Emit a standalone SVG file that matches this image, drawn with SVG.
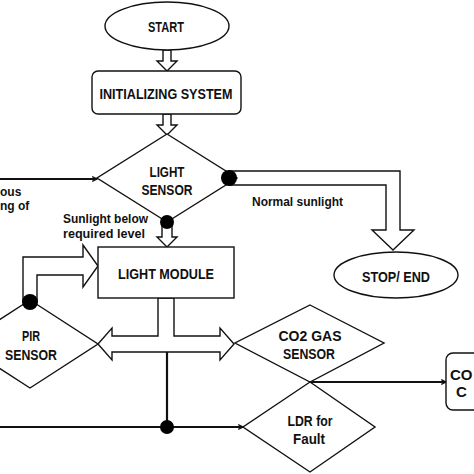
<svg xmlns="http://www.w3.org/2000/svg" width="474" height="474" viewBox="0 0 474 474">
<defs>
<style>
.shape{fill:#fff;stroke:#111;stroke-width:1.4}
.hollow{fill:#fff;stroke:#111;stroke-width:1.4;stroke-linejoin:miter}
.conn{fill:none;stroke:#111;stroke-width:2.2}
.dot{fill:#000}
.t{font-family:"Liberation Sans",Arial,sans-serif;font-weight:bold;font-size:15px;fill:#111;text-anchor:middle}
.s{font-family:"Liberation Sans",Arial,sans-serif;font-weight:bold;font-size:12px;fill:#111}
</style>
<marker id="ah" viewBox="0 0 10 10" refX="9" refY="5" markerWidth="6" markerHeight="6" orient="auto" markerUnits="userSpaceOnUse">
<path d="M1,1 L9,5 L1,9" fill="none" stroke="#111" stroke-width="2"/>
</marker>
</defs>
<rect width="474" height="474" fill="#fff"/>

<g id="connectors">
<polygon class="hollow" points="163,50 171,50 171,61 177,61 167,71 157,61 163,61"/>
<polygon class="hollow" points="163,114 171,114 171,125 177,125 167,135 157,125 163,125"/>
<polygon class="hollow" points="162,226 172,226 172,237 177,237 167,247 157,237 162,237"/>
<polygon class="hollow" points="229,171 400,171 400,230 414,230 393,250 372,230 386,230 386,185 229,185"/>
<polygon class="hollow" points="23,302 23,257 83,257 83,245 98,266 83,287 83,275 37,275 37,302"/>
<polygon class="hollow" points="158,298 158,336 112,336 112,328 98,344 112,360 112,352 220,352 220,360 234,344 220,328 220,336 174,336 174,298"/>
<line class="conn" x1="0" y1="179" x2="97" y2="179" marker-end="url(#ah)"/>
<line class="conn" x1="167" y1="352" x2="167" y2="427"/>
<line class="conn" x1="0" y1="427" x2="243" y2="427" marker-end="url(#ah)"/>
<line class="conn" x1="310" y1="382" x2="446" y2="382" marker-end="url(#ah)"/>
<text class="s" x="252" y="206" textLength="91" lengthAdjust="spacingAndGlyphs">Normal sunlight</text>
<text class="s" x="63" y="223" textLength="85" lengthAdjust="spacingAndGlyphs">Sunlight below</text>
<text class="s" x="63" y="238" textLength="82" lengthAdjust="spacingAndGlyphs">required level</text>
<text class="s" x="0" y="196">ous</text>
<text class="s" x="0" y="210">ng of</text>
</g>

<g id="start">
<ellipse class="shape" cx="167" cy="26" rx="62" ry="24"/>
<text class="t" x="166" y="32" textLength="36" lengthAdjust="spacingAndGlyphs">START</text>
</g>

<g id="init">
<rect class="shape" x="92" y="71" width="149" height="43" rx="6"/>
<text class="t" x="166" y="99" textLength="133" lengthAdjust="spacingAndGlyphs">INITIALIZING SYSTEM</text>
</g>

<g id="light-sensor">
<polygon class="shape" points="167,134 237,178 167,222 97,178"/>
<text class="t" x="167" y="177" textLength="35" lengthAdjust="spacingAndGlyphs">LIGHT</text>
<text class="t" x="167" y="195" textLength="51" lengthAdjust="spacingAndGlyphs">SENSOR</text>
</g>

<g id="stop">
<ellipse class="shape" cx="396" cy="275" rx="62" ry="23"/>
<text class="t" x="396" y="282" textLength="68" lengthAdjust="spacingAndGlyphs">STOP/ END</text>
</g>

<g id="light-module">
<rect class="shape" x="98" y="247" width="136" height="51"/>
<text class="t" x="166" y="279" textLength="96" lengthAdjust="spacingAndGlyphs">LIGHT MODULE</text>
</g>

<g id="pir">
<polygon class="shape" points="30,300 98,344 30,388 -38,344"/>
<text class="t" x="31" y="341" textLength="18" lengthAdjust="spacingAndGlyphs">PIR</text>
<text class="t" x="31" y="360" textLength="52" lengthAdjust="spacingAndGlyphs">SENSOR</text>
</g>

<g id="co2">
<polygon class="shape" points="310,305 384,343 310,382 235,343"/>
<text class="t" x="310" y="341" textLength="63" lengthAdjust="spacingAndGlyphs">CO2 GAS</text>
<text class="t" x="309" y="359" textLength="52" lengthAdjust="spacingAndGlyphs">SENSOR</text>
</g>

<g id="ldr">
<polygon class="shape" points="310,382 375,427 310,472 243,427"/>
<text class="t" x="310" y="426" textLength="45" lengthAdjust="spacingAndGlyphs">LDR for</text>
<text class="t" x="309" y="444" textLength="32" lengthAdjust="spacingAndGlyphs">Fault</text>
</g>

<g id="co2-box">
<rect class="shape" x="446" y="353" width="60" height="57" rx="7"/>
<text class="t" x="450" y="380" style="text-anchor:start">CO</text>
<text class="t" x="456" y="397" style="text-anchor:start">C</text>
</g>

<g id="junctions">
<circle class="dot" cx="229" cy="178" r="8"/>
<circle class="dot" cx="167" cy="222" r="7"/>
<circle class="dot" cx="30" cy="302" r="8"/>
<circle class="dot" cx="167" cy="427" r="7"/>
</g>
</svg>
